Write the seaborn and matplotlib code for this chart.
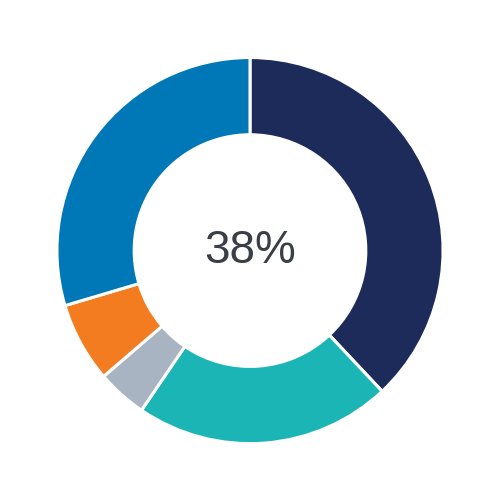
import matplotlib
matplotlib.use("Agg")
import matplotlib.pyplot as plt
import seaborn as sns

categories = ["Navy", "Teal", "Gray", "Orange", "Blue"]
values = [38.0, 21.5, 4.2, 6.7, 29.6]
colors = ["#1c2b5a", "#1cb5b5", "#a9b4c2", "#f47c20", "#0077b6"]
center_label = "38%"

sns.set_style("white")
plt.rcParams['font.family'] = ['Liberation Sans', 'DejaVu Sans']

fig = plt.figure(figsize=(5, 5), dpi=100)
ax = fig.add_axes([0, 0, 1, 1])
ax.pie(values, colors=colors, startangle=90, counterclock=False,
       radius=1.0, wedgeprops=dict(width=0.40, edgecolor="white", linewidth=2.2))
ax.set_xlim(-1.295, 1.295)
ax.set_ylim(-1.292, 1.298)
ax.set_aspect("equal")
ax.axis("off")
ax.text(0, 0.0, center_label, ha="center", va="center", fontsize=33, color="#3a3f47")
fig.savefig("out.png", dpi=100, facecolor="white")
